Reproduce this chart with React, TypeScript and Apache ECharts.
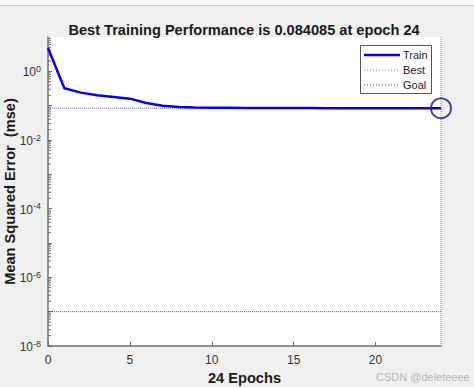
import React, { useEffect, useRef } from "react";
import * as echarts from "echarts";

const epochs = [0, 1, 2, 3, 4, 5, 6, 7, 8, 9, 10, 11, 12, 13, 14, 15, 16, 17, 18, 19, 20, 21, 22, 23, 24];
const trainMse = [4.8, 0.32, 0.24, 0.2, 0.18, 0.16, 0.12, 0.099, 0.092, 0.088, 0.087, 0.0865, 0.086, 0.0857, 0.0854, 0.0851, 0.0849, 0.0847, 0.0845, 0.0844, 0.0843, 0.0842, 0.0841, 0.08409, 0.084085];
const bestEpoch = 24;
const bestPerf = 0.084085;
const goal = 1e-7;
const yMin = 1e-8;
const yMax = 10;
const xTicks = [0, 5, 10, 15, 20];
const legendNames = ["Train", "Best", "Goal"];

const FONT = "'Liberation Sans', Arial, Helvetica, sans-serif";
const AXIS = "#6e6e6e";
const BEST_C = "#7a7ac8";
const GOAL_C = "#555555";

export default function App() {
  const ref = useRef<HTMLDivElement>(null);
  useEffect(() => {
    if (!ref.current) return;
    const chart = echarts.init(ref.current, undefined, { renderer: "svg" });
    const minorTicks: number[][] = [];
    for (let d = -8; d < 1; d++) {
      for (let k = 2; k <= 9; k++) minorTicks.push([0, k * Math.pow(10, d)]);
    }
    const option: any = {
      animation: false,
      backgroundColor: "#f0f0f0",
      textStyle: { fontFamily: FONT },
      title: {
        text: "Best Training Performance is 0.084085 at epoch " + bestEpoch,
        left: 239,
        textAlign: "center",
        top: 17,
        textStyle: { fontFamily: FONT, fontSize: 14.6, fontWeight: "bold", color: "#1a1a1a" },
      },
      grid: {
        left: 48, top: 37, right: 33, bottom: 41,
        outerBoundsMode: "none", containLabel: false,
        show: true, backgroundColor: "#ffffff", borderWidth: 0,
      },
      xAxis: {
        type: "value",
        min: 0,
        max: bestEpoch,
        interval: 5,
        name: bestEpoch + " Epochs",
        nameLocation: "middle",
        nameGap: 24,
        nameTextStyle: { fontFamily: FONT, fontSize: 14.6, fontWeight: "bold", color: "#1a1a1a" },
        axisLine: { show: true, onZero: false, lineStyle: { color: AXIS, width: 1.5 } },
        axisTick: { show: true, inside: true, length: 4, lineStyle: { color: AXIS } },
        axisLabel: {
          showMaxLabel: false,
          margin: 8,
          fontFamily: FONT,
          fontSize: 12,
          color: "#333333",
          formatter: (v: number) => (xTicks.includes(v) ? String(v) : ""),
        },
        splitLine: { show: false },
      },
      yAxis: {
        type: "log",
        logBase: 10,
        min: yMin,
        max: yMax,
        interval: 1,
        axisLine: { show: true, lineStyle: { color: AXIS, width: 1.5 } },
        axisTick: { show: true, inside: true, length: 4, lineStyle: { color: AXIS } },
        axisLabel: {
          showMaxLabel: false,
          margin: 7,
          fontFamily: FONT,
          color: "#333333",
          formatter: (v: number) => {
            const e = Math.round(Math.log10(v));
            if (e % 2 !== 0 || e > 0) return "";
            return "{b|10}{s|" + e + "}";
          },
          rich: {
            b: { fontSize: 12, fontFamily: FONT, color: "#333333", verticalAlign: "bottom", lineHeight: 14 },
            s: { fontSize: 9, fontFamily: FONT, color: "#333333", verticalAlign: "top", lineHeight: 9, padding: [0, 0, 7, 0] },
          },
        },
        splitLine: { show: false },
      },
      series: [
        {
          name: "minorTicks",
          type: "custom",
          silent: true,
          clip: false,
          data: minorTicks,
          renderItem: (params: any, api: any) => {
            const c = api.coord([api.value(0), api.value(1)]);
            return {
              type: "line",
              shape: { x1: c[0], y1: c[1], x2: c[0] + 3, y2: c[1] },
              style: { stroke: AXIS, lineWidth: 1 },
            };
          },
          z: 1,
        },
        {
          name: "Goal",
          type: "line",
          symbol: "none",
          data: [[0, goal], [bestEpoch, goal]],
          lineStyle: { color: GOAL_C, width: 1, type: "dotted" },
          z: 2,
        },
        {
          name: "Best",
          type: "line",
          symbol: "none",
          data: [[0, bestPerf], [bestEpoch, bestPerf]],
          lineStyle: { color: BEST_C, width: 1, type: "dotted" },
          z: 2,
        },
        {
          name: "BestV",
          type: "line",
          symbol: "none",
          data: [[bestEpoch, yMin], [bestEpoch, yMax]],
          lineStyle: { color: BEST_C, width: 1, type: "dotted" },
          z: 2,
        },
        {
          name: "Train",
          type: "line",
          symbol: "none",
          data: epochs.map((e, i) => [e, trainMse[i]]),
          lineStyle: { color: "#0000ff", width: 2.5 },
          z: 3,
        },
        {
          name: "BestPoint",
          type: "scatter",
          symbol: "circle",
          symbolSize: 20,
          data: [[bestEpoch, bestPerf]],
          itemStyle: { color: "rgba(0,0,0,0)", borderColor: "#1a1a8c", borderWidth: 2 },
          clip: false,
          z: 4,
        },
      ],
      graphic: [
        { type: "rect", shape: { x: 0, y: 0, width: 474, height: 5 }, style: { fill: "#fafafa" }, silent: true },
        { type: "line", shape: { x1: 0, y1: 5.5, x2: 474, y2: 5.5 }, style: { stroke: "#cfcfcf", lineWidth: 1 }, silent: true },
        {
          type: "text",
          x: 10,
          y: 191.5,
          rotation: Math.PI / 2,
          style: {
            text: "Mean Squared Error  (mse)",
            font: "bold 14.6px " + FONT,
            fill: "#1a1a1a",
            align: "center",
            verticalAlign: "middle",
          },
          z: 11,
        },
        {
          type: "rect",
          shape: { x: 360.5, y: 45.5, width: 71, height: 48 },
          style: { fill: "#ffffff", stroke: "#555555", lineWidth: 1 },
          z: 10,
        },
        { type: "line", shape: { x1: 364, y1: 55, x2: 400, y2: 55 }, style: { stroke: "#0000ff", lineWidth: 2.5 }, z: 11 },
        { type: "line", shape: { x1: 364, y1: 70, x2: 400, y2: 70 }, style: { stroke: BEST_C, lineWidth: 1, lineDash: [1, 2] }, z: 11 },
        { type: "line", shape: { x1: 364, y1: 85, x2: 400, y2: 85 }, style: { stroke: GOAL_C, lineWidth: 1, lineDash: [1, 2] }, z: 11 },
        ...legendNames.map((n, i) => ({
          type: "text",
          x: 403,
          y: 55 + i * 15,
          style: { text: n, font: "11px " + FONT, fill: "#1a1a1a", verticalAlign: "middle" },
          z: 11,
        })),
        {
          type: "text",
          x: 376,
          y: 377,
          style: { text: "CSDN @deleteeee", font: "11px " + FONT, fill: "#b4b4b4", verticalAlign: "middle" },
          z: 11,
        },
      ],
    };
    chart.setOption(option);
    return () => chart.dispose();
  }, []);
  return <div ref={ref} style={{ width: 474, height: 387, position: "fixed", left: 0, top: 0 }} />;
}
